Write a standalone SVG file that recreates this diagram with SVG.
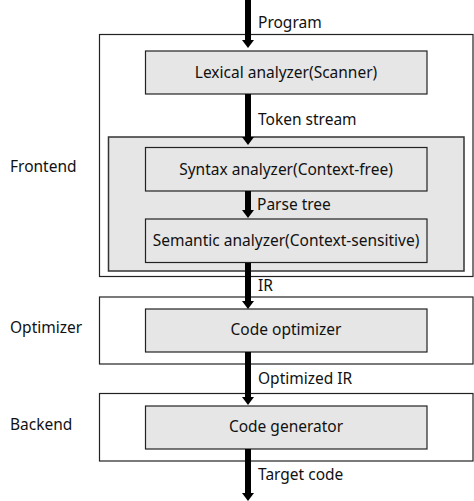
<svg xmlns="http://www.w3.org/2000/svg" width="474" height="501" viewBox="0 0 474 501">
<defs>
<style>
text{font-family:"Noto Sans","DejaVu Sans",sans-serif;font-size:15.5px;fill:#111}
.c{text-anchor:middle}
.outer{fill:#fff;stroke:#222;stroke-width:1.2}
.inner{fill:#e6e6e6;stroke:#333;stroke-width:1.5}
.box{fill:#e6e6e6;stroke:#222;stroke-width:1.2}
.shaft{stroke:#000;stroke-width:6;fill:none}
.head{fill:#000}
</style>
</defs>
<rect width="474" height="501" fill="#fff"/>
<g id="frontend">
<rect class="outer" x="99.5" y="34.5" width="373.5" height="242"/>
<text x="10" y="172">Frontend</text>
</g>
<g id="parser-group">
<rect class="inner" x="108.5" y="137" width="355.5" height="134"/>
</g>
<g id="lexical">
<rect class="box" x="145.5" y="51" width="281.5" height="43"/>
<text class="c" x="286" y="78">Lexical analyzer(Scanner)</text>
</g>
<g id="syntax">
<rect class="box" x="145.5" y="147.5" width="281.5" height="43.5"/>
<text class="c" x="286" y="175">Syntax analyzer(Context-free)</text>
</g>
<g id="semantic">
<rect class="box" x="145.5" y="219" width="281.5" height="43.5"/>
<text class="c" x="286" y="246">Semantic analyzer(Context-sensitive)</text>
</g>
<g id="optimizer">
<rect class="outer" x="99.5" y="297" width="373.5" height="67"/>
<text x="10" y="333">Optimizer</text>
</g>
<g id="code-optimizer">
<rect class="box" x="145.5" y="309" width="281.5" height="43"/>
<text class="c" x="286" y="335">Code optimizer</text>
</g>
<g id="backend">
<rect class="outer" x="99.5" y="393.5" width="373.5" height="67.5"/>
<text x="10" y="430">Backend</text>
</g>
<g id="code-generator">
<rect class="box" x="145.5" y="406" width="281.5" height="43"/>
<text class="c" x="286" y="432">Code generator</text>
</g>
<g id="connectors">
<path class="shaft" d="M248 0V41"/><path class="head" d="M242 40H254L248 48Z"/>
<path class="shaft" d="M248 94V138"/><path class="head" d="M242 137H254L248 145Z"/>
<path class="shaft" d="M248 191V211"/><path class="head" d="M242 210H254L248 218Z"/>
<path class="shaft" d="M248 263V302"/><path class="head" d="M242 301H254L248 309Z"/>
<path class="shaft" d="M248 352V398"/><path class="head" d="M242 397H254L248 405Z"/>
<path class="shaft" d="M248 449V494"/><path class="head" d="M242 493H254L248 501Z"/>
<text x="258" y="28">Program</text>
<text x="258" y="125">Token stream</text>
<text x="257" y="210">Parse tree</text>
<text x="258" y="291">IR</text>
<text x="258" y="384">Optimized IR</text>
<text x="258" y="480">Target code</text>
</g>
</svg>
